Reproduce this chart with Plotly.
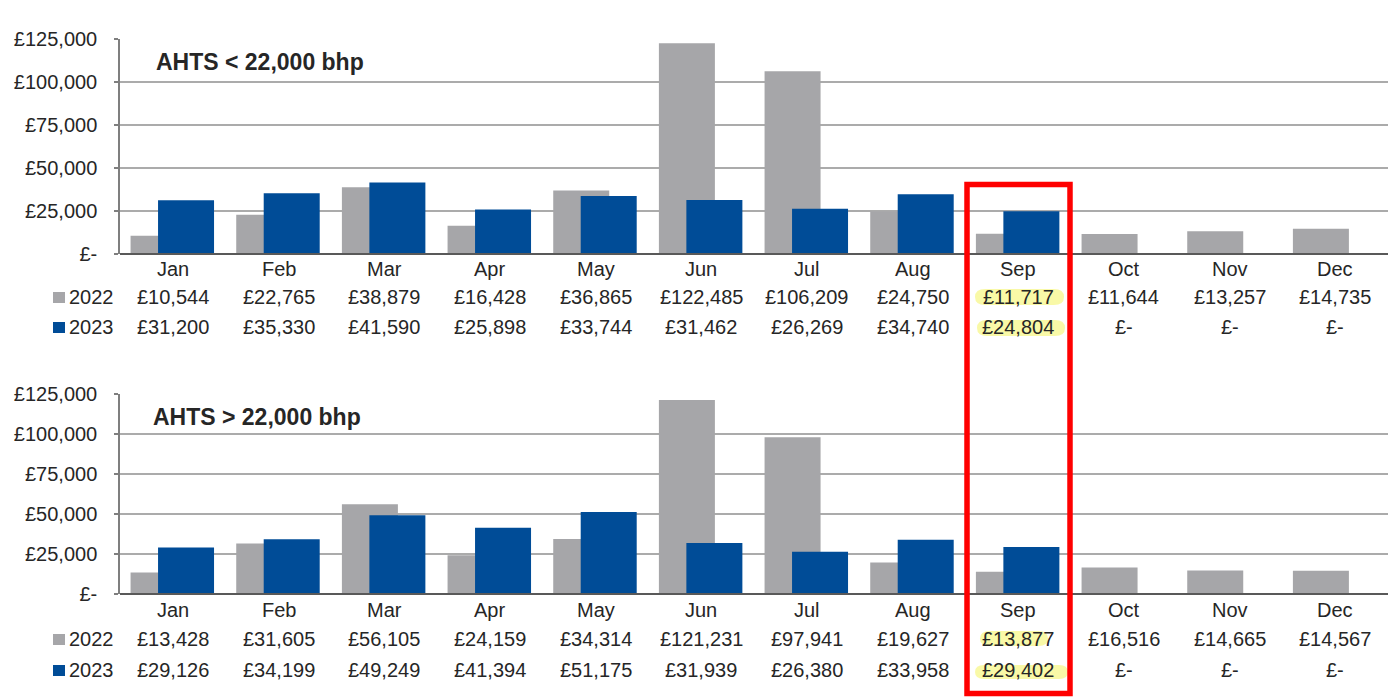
import plotly.graph_objects as go

months = ["Jan", "Feb", "Mar", "Apr", "May", "Jun", "Jul", "Aug", "Sep", "Oct", "Nov", "Dec"]
small_2022 = [10544, 22765, 38879, 16428, 36865, 122485, 106209, 24750, 11717, 11644, 13257, 14735]
small_2023 = [31200, 35330, 41590, 25898, 33744, 31462, 26269, 34740, 24804, 0, 0, 0]
large_2022 = [13428, 31605, 56105, 24159, 34314, 121231, 97941, 19627, 13877, 16516, 14665, 14567]
large_2023 = [29126, 34199, 49249, 41394, 51175, 31939, 26380, 33958, 29402, 0, 0, 0]
titles = ["AHTS < 22,000 bhp", "AHTS > 22,000 bhp"]
years = ["2022", "2023"]
tick_vals = [0, 25000, 50000, 75000, 100000, 125000]
tick_text = ["£-", "£25,000", "£50,000", "£75,000", "£100,000", "£125,000"]

W, H = 1391, 699
GRAY = "#A6A6A9"
BLUE = "#004C97"
TXT = "#262626"
FONT = "Liberation Sans, Arial, sans-serif"
FS = 20


def py(p):
    return 1 - p / H


def px(p):
    return p / W


def fmt(v):
    return "£-" if v == 0 else f"£{v:,}"


def pill(x0, x1, y0, y1):
    r = (y1 - y0) / 2
    ym = (y0 + y1) / 2
    pts = [
        f"M{px(x0 + r)},{py(y0)}",
        f"L{px(x1 - r)},{py(y0)}",
        f"Q{px(x1 + 2)},{py(y0)} {px(x1 + 2)},{py(ym)}",
        f"Q{px(x1 + 2)},{py(y1)} {px(x1 - r)},{py(y1)}",
        f"L{px(x0 + r)},{py(y1)}",
        f"Q{px(x0 - 2)},{py(y1)} {px(x0 - 2)},{py(ym)}",
        f"Q{px(x0 - 2)},{py(y0)} {px(x0 + r)},{py(y0)} Z",
    ]
    return " ".join(pts)


fig = go.Figure()

panels = [
    dict(d22=small_2022, d23=small_2023, top=39, bot=254, xa="x", ya="y",
         title_y=62, month_y=269, r22=297, r23=327),
    dict(d22=large_2022, d23=large_2023, top=394, bot=594, xa="x2", ya="y2",
         title_y=417, month_y=610, r22=639, r23=670),
]

x_left, x_right = 120, 1388
xs = list(range(12))
annotations = []
shapes = []

for i, p in enumerate(panels):
    fig.add_trace(go.Bar(x=xs, y=p["d22"], name="2022", marker=dict(color=GRAY, line=dict(width=0)),
                         width=0.53, offset=-0.40, xaxis=p["xa"], yaxis=p["ya"], showlegend=False,
                         hoverinfo="skip"))
    fig.add_trace(go.Bar(x=xs, y=[v if v else None for v in p["d23"]], name="2023",
                         marker=dict(color=BLUE, line=dict(width=0)),
                         width=0.53, offset=-0.14, xaxis=p["xa"], yaxis=p["ya"], showlegend=False,
                         hoverinfo="skip"))
    sfx = "" if i == 0 else "2"
    fig.layout["xaxis" + sfx] = dict(domain=[px(x_left), px(x_right)], range=[-0.5, 11.5],
                                     showticklabels=False, showgrid=False, zeroline=False,
                                     showline=False, anchor="y" + sfx, fixedrange=True,
                                     automargin=False)
    fig.layout["yaxis" + sfx] = dict(domain=[py(p["bot"]), py(p["top"])], range=[0, 125000],
                                     tickvals=tick_vals, ticktext=tick_text,
                                     tickfont=dict(size=FS, color=TXT, family=FONT),
                                     showgrid=True, gridcolor="#ABABAB", gridwidth=1.5,
                                     zeroline=False, showline=True, linecolor="#7F7F7F", linewidth=1.5,
                                     ticks="outside", ticklen=4, tickcolor="#7F7F7F", tickwidth=1.5,
                                     ticklabelstandoff=13, anchor="x" + sfx, fixedrange=True,
                                     automargin=False)
    # baseline (x axis line)
    shapes.append(dict(type="line", xref="paper", yref="paper", x0=px(x_left), x1=px(x_right),
                       y0=py(p["bot"]), y1=py(p["bot"]), line=dict(color="#595959", width=2)))
    # title
    annotations.append(dict(text=f"<b>{titles[i]}</b>", xref="paper", yref="paper",
                            x=px(151 if i else 154), y=py(p["title_y"]), xanchor="left", yanchor="middle",
                            showarrow=False, font=dict(size=23, color=TXT, family=FONT)))
    # highlight marks for Sep
    for (x0, x1, y0, y1) in ([(977, 1062, 289, 305), (979, 1063, 320, 336)] if i == 0 else
                             [(982, 1046, 631, 646), (977, 1066, 665, 679)]):
        shapes.append(dict(type="path", xref="paper", yref="paper", path=pill(x0, x1, y0, y1),
                           fillcolor="rgba(246,246,130,0.7)", line=dict(width=0), layer="below"))
    # table rows
    for j, m in enumerate(months):
        annotations.append(dict(text=m, xref=p["xa"], yref="paper", x=j, y=py(p["month_y"]),
                                xanchor="center", yanchor="middle", showarrow=False,
                                font=dict(size=FS, color=TXT, family=FONT)))
        annotations.append(dict(text=fmt(p["d22"][j]), xref=p["xa"], yref="paper", x=j,
                                y=py(p["r22"]), xanchor="center", yanchor="middle", showarrow=False,
                                font=dict(size=FS, color=TXT, family=FONT)))
        annotations.append(dict(text=fmt(p["d23"][j]), xref=p["xa"], yref="paper", x=j,
                                y=py(p["r23"]), xanchor="center", yanchor="middle", showarrow=False,
                                font=dict(size=FS, color=TXT, family=FONT)))
    # legend keys
    for yr, col, rowy in ((years[0], GRAY, p["r22"]), (years[1], BLUE, p["r23"])):
        shapes.append(dict(type="rect", xref="paper", yref="paper", x0=px(53), x1=px(65),
                           y0=py(rowy + 6), y1=py(rowy - 5), fillcolor=col, line=dict(width=0)))
        annotations.append(dict(text=yr, xref="paper", yref="paper", x=px(67), y=py(rowy),
                                xanchor="left", yanchor="middle", showarrow=False,
                                font=dict(size=FS, color=TXT, family=FONT)))

# red highlight box around September
shapes.append(dict(type="rect", xref="paper", yref="paper", x0=px(967), x1=px(1070),
                   y0=py(693.5), y1=py(184.5), line=dict(color="#FF0000", width=5.5),
                   fillcolor="rgba(0,0,0,0)"))

fig.update_layout(width=W, height=H, margin=dict(l=0, r=0, t=0, b=0, autoexpand=False),
                  paper_bgcolor="white", plot_bgcolor="white", barmode="overlay",
                  annotations=annotations, shapes=shapes, showlegend=False,
                  font=dict(family=FONT, color=TXT))

fig.write_html("out.html")
